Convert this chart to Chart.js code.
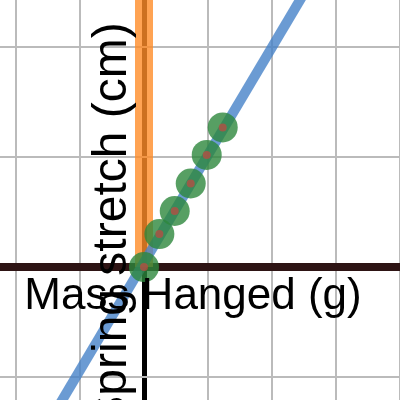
<!DOCTYPE html>
<html><head><meta charset="utf-8">
<script src="https://cdn.jsdelivr.net/npm/chart.js@4"></script>
<style>html,body{margin:0;padding:0;background:#fff}#w{width:400px;height:400px}</style>
</head><body><div id="w"><canvas id="c"></canvas></div>
<script>
const massX = [0, 0.24, 0.48, 0.73, 0.98, 1.23];
const stretchY = [0, 0.3, 0.51, 0.76, 1.02, 1.27];
const fitX = [-1.4, 3.5];
const fitY = [-1.33, 3.47];
const steepX = [0, 0];
const steepY = [0, 2.6];
const xTitle = "Mass Hanged (g)";
const yTitle = "Spring stretch (cm)";

const pts = massX.map((x,i)=>({x, y: stretchY[i]}));
const labels = {
  id:'labels',
  afterDatasetsDraw(ch){
    const c = ch.ctx;
    c.save();
    c.fillStyle = '#000';
    c.font = '44px "Liberation Sans", Arial, sans-serif';
    c.textAlign = 'center'; c.textBaseline = 'alphabetic';
    c.fillText(xTitle, 193, 309);
    c.translate(126, 225);
    c.rotate(-Math.PI/2);
    c.font = '48px "Liberation Sans", Arial, sans-serif';
    c.fillText(yTitle, 0, 0);
    c.restore();
  }
};
new Chart(document.getElementById('c'), {
  type: 'scatter',
  data: { datasets: [
    { data: pts, pointRadius: 4, pointBackgroundColor: 'rgba(220,60,60,0.6)', pointBorderWidth: 0, showLine: false, order: 0 },
    { data: pts, pointRadius: 15, pointBackgroundColor: 'rgba(45,135,60,0.8)', pointBorderWidth: 0, showLine: false, order: 1 },
    { data: fitX.map((x,i)=>({x, y: fitY[i]})), showLine: true, borderColor: 'rgba(70,130,200,0.8)', borderWidth: 10, pointRadius: 0, order: 2 },
    { data: steepX.map((x,i)=>({x, y: steepY[i]})), showLine: true, borderColor: 'rgba(255,140,40,0.8)', borderWidth: 18, pointRadius: 0, order: 3 }
  ]},
  options: {
    responsive: true, maintainAspectRatio: false, animation: false,
    layout: { padding: 0, autoPadding: false },
    plugins: { legend: { display: false }, tooltip: { enabled: false } },
    scales: {
      x: { type: 'linear', min: -2.25, max: 4, ticks: { display: false, stepSize: 1, includeBounds: false, padding: 0 },
           afterFit: s => { s.height = 0; },
           border: { display: false },
           grid: { drawTicks: false, color: c => c.tick && c.tick.value === 0 ? '#000' : '#bbb', lineWidth: c => c.tick && c.tick.value === 0 ? 5 : 2 } },
      y: { type: 'linear', min: -1.21, max: 2.43, ticks: { display: false, stepSize: 1, includeBounds: false, padding: 0 },
           afterFit: s => { s.width = 0; },
           border: { display: false },
           grid: { drawTicks: false, color: c => c.tick && c.tick.value === 0 ? '#2e1414' : '#bbb', lineWidth: c => c.tick && c.tick.value === 0 ? 8 : 2 } }
    }
  },
  plugins: [labels]
});
</script></body></html>
